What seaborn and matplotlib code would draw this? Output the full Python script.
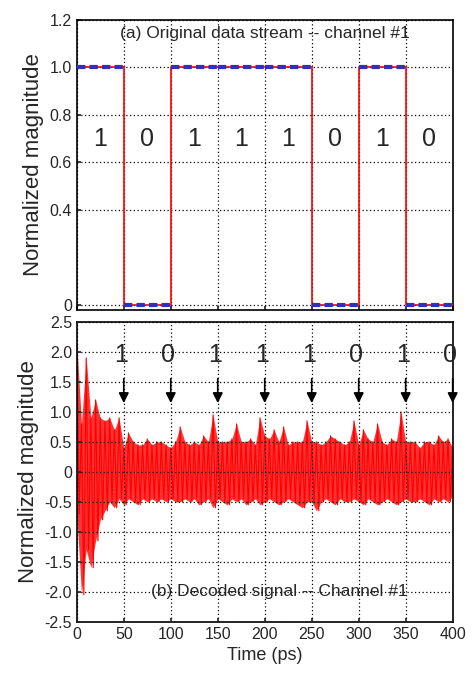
import matplotlib
matplotlib.use("Agg")
import matplotlib.pyplot as plt
import numpy as np
import seaborn as sns

# bit stream, 50 ps per bit
bits = [1, 0, 1, 1, 1, 0, 1, 0]
bit_period = 50

# decoded signal envelope, sampled every 5 ps (0..400)
env_t = list(range(0, 405, 5))
env_upper = [2.15, 0.8, 1.9, 0.9, 1.2, 0.9, 0.85, 0.9, 0.7, 0.9,
             0.4, 0.65, 0.5, 0.45, 0.45, 0.55, 0.45, 0.5, 0.5, 0.45,
             0.4, 0.5, 0.75, 0.5, 0.45, 0.5, 0.45, 0.6, 0.5, 0.95,
             0.5, 0.5, 0.5, 0.55, 0.8, 0.5, 0.5, 0.55, 0.45, 0.9,
             0.6, 0.55, 0.7, 0.5, 0.75, 0.45, 0.5, 0.5, 0.5, 0.85,
             0.5, 0.5, 0.45, 0.5, 0.6, 0.55, 0.5, 0.45, 0.5, 0.85,
             0.45, 0.7, 0.55, 0.5, 0.8, 0.5, 0.45, 0.55, 0.5, 1.0,
             0.5, 0.5, 0.5, 0.4, 0.5, 0.5, 0.45, 0.6, 0.5, 0.55, 0.4]
env_lower = [-0.7, -2.05, -1.3, -1.6, -1.15, -0.8, -0.65, -0.5, -0.6, -0.45,
             -0.55, -0.45, -0.5, -0.55, -0.45, -0.5, -0.45, -0.5, -0.45, -0.5,
             -0.45, -0.5, -0.5, -0.45, -0.5, -0.45, -0.55, -0.5, -0.45, -0.6,
             -0.45, -0.5, -0.55, -0.45, -0.5, -0.45, -0.55, -0.5, -0.45, -0.55,
             -0.5, -0.45, -0.5, -0.55, -0.5, -0.45, -0.5, -0.55, -0.6, -0.5,
             -0.5, -0.65, -0.5, -0.45, -0.5, -0.55, -0.45, -0.5, -0.5, -0.45,
             -0.5, -0.55, -0.45, -0.5, -0.55, -0.5, -0.45, -0.5, -0.55, -0.5,
             -0.45, -0.5, -0.5, -0.45, -0.5, -0.55, -0.45, -0.5, -0.45, -0.5, -0.4]

sns.set_theme(style="white")
plt.rcParams["font.family"] = ["Liberation Sans", "DejaVu Sans"]

fig = plt.figure(figsize=(4.74, 6.75), dpi=100)
ax1 = fig.add_axes([0.162, 0.541, 0.793, 0.43])
ax2 = fig.add_axes([0.162, 0.079, 0.793, 0.444])

grid_kw = dict(color="black", linestyle=(0, (1, 2)), linewidth=0.9)

# (a) original data stream
t_step = [i * bit_period for i in range(len(bits) + 1)]
v_step = bits + [bits[-1]]
ax1.step(t_step, v_step, where="post", color="red", linewidth=1.2, zorder=3)
for i, b in enumerate(bits):
    ax1.plot([i * bit_period, (i + 1) * bit_period], [b, b], color="#3030c0",
             linestyle=(0, (2, 1)), linewidth=3, zorder=4)
    ax1.text(i * bit_period + 25, 0.7, str(b), ha="center", va="center", fontsize=18)
ax1.set_xlim(0, 400)
ax1.set_ylim(-0.02, 1.2)
ax1.set_xticks(range(0, 401, 50))
ax1.set_xticklabels([])
ax1.set_yticks([0, 0.4, 0.6, 0.8, 1.0, 1.2])
ax1.set_yticklabels(["0", "0.4", "0.6", "0.8", "1.0", "1.2"])
ax1.grid(True, **grid_kw)
ax1.text(200, 1.14, "(a) Original data stream -- channel #1", ha="center", va="center", fontsize=12.5)
ax1.set_ylabel("Normalized magnitude", fontsize=16)

# (b) decoded signal: zigzag between envelope bounds
zz_t, zz_v = [], []
for t, u, l in zip(env_t, env_upper, env_lower):
    zz_t += [t, t + 2.5]
    zz_v += [u, l]
ax2.fill_between(env_t, env_lower, env_upper, color="red", alpha=0.8, linewidth=0)
sns.lineplot(x=zz_t, y=zz_v, ax=ax2, color="red", linewidth=0.8, sort=False)
for i, b in enumerate(bits):
    x = (i + 1) * bit_period
    ax2.text(x - 3, 1.95, str(b), ha="center", va="center", fontsize=18)
    ax2.annotate("", xy=(x, 1.1), xytext=(x, 1.6),
                 arrowprops=dict(arrowstyle="-|>", color="black", lw=1.2, mutation_scale=15))
ax2.set_xlim(0, 400)
ax2.set_ylim(-2.5, 2.5)
ax2.set_xticks(range(0, 401, 50))
ax2.set_yticks(np.arange(-2.5, 2.51, 0.5))
ax2.set_yticklabels(["-2.5", "-2.0", "-1.5", "-1.0", "-0.5", "0", "0.5", "1.0", "1.5", "2.0", "2.5"])
ax2.grid(True, **grid_kw)
ax2.set_axisbelow(False)
ax2.text(215, -2.0, "(b) Decoded signal -- Channel #1", ha="center", va="center", fontsize=12.5)
ax2.set_ylabel("Normalized magnitude", fontsize=16)
ax2.set_xlabel("Time (ps)", fontsize=13)

for ax in (ax1, ax2):
    ax.tick_params(axis="both", labelsize=11.5, direction="in", length=3, left=True, bottom=True)
    for s in ax.spines.values():
        s.set_color("black")
        s.set_linewidth(1.2)

fig.savefig("out.png", dpi=100)
